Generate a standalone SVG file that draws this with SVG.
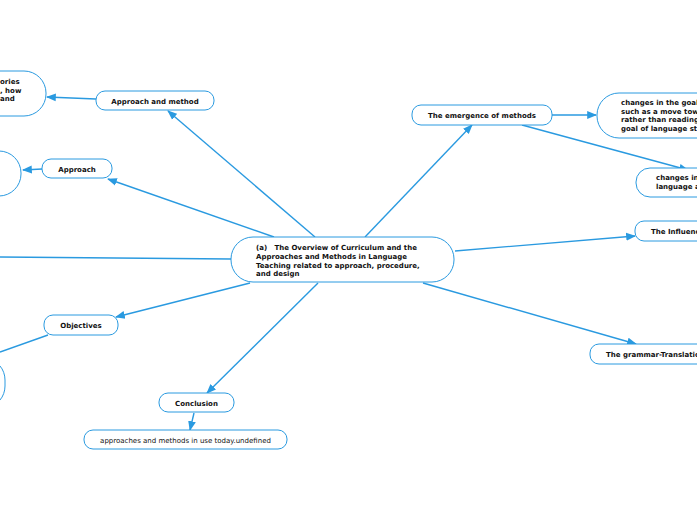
<svg xmlns="http://www.w3.org/2000/svg" width="697" height="520" viewBox="0 0 697 520">
<defs>
<marker id="a" viewBox="0 0 10 10" refX="9" refY="5" markerWidth="7" markerHeight="7" orient="auto-start-reverse"><path d="M0,1 L10,5 L0,9 z" fill="#2a9ae0"/></marker>
<style>
.n{fill:#fff;stroke:#2a9ae0;stroke-width:1}
.t{font-family:"DejaVu Sans",Verdana,sans-serif;font-weight:bold;font-size:7px;fill:#111}
.r{font-family:"DejaVu Sans",Verdana,sans-serif;font-size:7px;fill:#111}
.c{stroke:#2a9ae0;stroke-width:1.4;fill:none}
.m{marker-end:url(#a)}
</style>
</defs>
<rect width="697" height="520" fill="#fff"/>
<g id="connectors">
<line class="c m" x1="315" y1="237" x2="168" y2="111"/>
<line class="c m" x1="274" y1="237" x2="108" y2="179"/>
<line class="c m" x1="96" y1="99" x2="47" y2="97"/>
<line class="c m" x1="42" y1="169" x2="23" y2="170"/>
<line class="c" x1="0" y1="257" x2="231" y2="259"/>
<line class="c m" x1="250" y1="283" x2="116" y2="317"/>
<line class="c" x1="48" y1="335" x2="0" y2="352"/>
<line class="c m" x1="318" y1="283" x2="207" y2="393"/>
<line class="c m" x1="194" y1="413" x2="190" y2="430"/>
<line class="c m" x1="365" y1="237" x2="472" y2="125"/>
<line class="c m" x1="552" y1="115" x2="596" y2="115"/>
<line class="c m" x1="522" y1="125" x2="688" y2="170"/>
<line class="c m" x1="455" y1="251" x2="635" y2="236"/>
<line class="c m" x1="423" y1="283" x2="636" y2="344"/>
</g>
<g id="center"><rect class="n" x="231" y="237" width="223" height="45" rx="22"/>
<text class="t" x="256" y="250" xml:space="preserve">(a)   The Overview of Curriculum and the</text>
<text class="t" x="256" y="259">Approaches and Methods in Language</text>
<text class="t" x="256" y="267.500">Teaching related to approach, procedure,</text>
<text class="t" x="256" y="276">and design</text></g>
<g id="approach-method"><rect class="n" x="96" y="91" width="118" height="19" rx="9"/><text class="t" x="155" y="103.500" text-anchor="middle">Approach and method</text></g>
<g id="theories"><rect class="n" x="-30" y="71" width="76" height="45" rx="22"/>
<text class="t" x="0" y="84">ories</text><text class="t" x="0" y="92.500">, how</text><text class="t" x="0" y="101">and</text></g>
<g id="approach"><rect class="n" x="42" y="159" width="70" height="19" rx="9"/><text class="t" x="77" y="171.500" text-anchor="middle">Approach</text></g>
<g id="approach-child"><rect class="n" x="-30" y="151" width="51" height="45" rx="22"/></g>
<g id="objectives"><rect class="n" x="44" y="315" width="74" height="20" rx="9"/><text class="t" x="81" y="327.500" text-anchor="middle">Objectives</text></g>
<g id="objectives-child"><rect class="n" x="-30" y="360" width="35" height="46" rx="20"/></g>
<g id="conclusion"><rect class="n" x="159" y="393" width="75" height="19" rx="9"/><text class="t" x="196.500" y="405.500" text-anchor="middle">Conclusion</text></g>
<g id="approaches-today"><rect class="n" x="84" y="430" width="203" height="19" rx="9"/><text class="r" x="185.500" y="442.500" text-anchor="middle">approaches and methods in use today.undefined</text></g>
<g id="emergence"><rect class="n" x="412" y="105" width="140" height="20" rx="9"/><text class="t" x="482" y="117.500" text-anchor="middle">The emergence of methods</text></g>
<g id="changes-goal"><rect class="n" x="597" y="93" width="130" height="45" rx="22"/>
<text class="t" x="621" y="105">changes in the goals</text><text class="t" x="621" y="113.500">such as a move towards</text><text class="t" x="621" y="122">rather than reading</text><text class="t" x="621" y="130.500">goal of language study</text></g>
<g id="changes-lang"><rect class="n" x="636" y="168" width="90" height="29" rx="14"/>
<text class="t" x="656" y="180">changes in</text><text class="t" x="656" y="189">language and</text></g>
<g id="influence"><rect class="n" x="635" y="221" width="90" height="20" rx="9"/><text class="t" x="651" y="233.500">The Influence</text></g>
<g id="grammar"><rect class="n" x="590" y="344" width="130" height="20" rx="9"/><text class="t" x="606" y="356.500">The grammar-Translation</text></g>
</svg>
